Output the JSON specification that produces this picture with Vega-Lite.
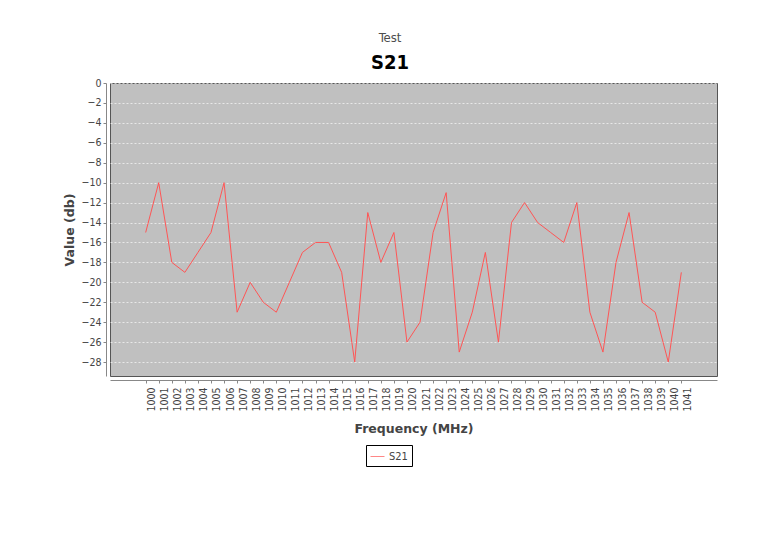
{
  "$schema": "https://vega.github.io/schema/vega-lite/v6.json",
  "autosize": {"type": "none"},
  "width": 607,
  "height": 293,
  "padding": {"left": 110, "top": 83, "right": 60, "bottom": 165},
  "background": "white",
  "title": {
    "text": "Test",
    "subtitle": "S21",
    "anchor": "middle",
    "frame": "bounds",
    "font": "DejaVu Sans Condensed, DejaVu Sans",
    "fontSize": 13,
    "fontWeight": "normal",
    "color": "#4d4d4d",
    "subtitleFont": "DejaVu Sans Condensed, DejaVu Sans",
    "subtitleFontSize": 20,
    "subtitleFontWeight": "bold",
    "subtitleColor": "black",
    "subtitlePadding": 8,
    "offset": 5
  },
  "data": {
    "values": [
      {"frequency": 1000, "value": -15, "series": "S21"},
      {"frequency": 1001, "value": -10, "series": "S21"},
      {"frequency": 1002, "value": -18, "series": "S21"},
      {"frequency": 1003, "value": -19, "series": "S21"},
      {"frequency": 1004, "value": -17, "series": "S21"},
      {"frequency": 1005, "value": -15, "series": "S21"},
      {"frequency": 1006, "value": -10, "series": "S21"},
      {"frequency": 1007, "value": -23, "series": "S21"},
      {"frequency": 1008, "value": -20, "series": "S21"},
      {"frequency": 1009, "value": -22, "series": "S21"},
      {"frequency": 1010, "value": -23, "series": "S21"},
      {"frequency": 1011, "value": -20, "series": "S21"},
      {"frequency": 1012, "value": -17, "series": "S21"},
      {"frequency": 1013, "value": -16, "series": "S21"},
      {"frequency": 1014, "value": -16, "series": "S21"},
      {"frequency": 1015, "value": -19, "series": "S21"},
      {"frequency": 1016, "value": -28, "series": "S21"},
      {"frequency": 1017, "value": -13, "series": "S21"},
      {"frequency": 1018, "value": -18, "series": "S21"},
      {"frequency": 1019, "value": -15, "series": "S21"},
      {"frequency": 1020, "value": -26, "series": "S21"},
      {"frequency": 1021, "value": -24, "series": "S21"},
      {"frequency": 1022, "value": -15, "series": "S21"},
      {"frequency": 1023, "value": -11, "series": "S21"},
      {"frequency": 1024, "value": -27, "series": "S21"},
      {"frequency": 1025, "value": -23, "series": "S21"},
      {"frequency": 1026, "value": -17, "series": "S21"},
      {"frequency": 1027, "value": -26, "series": "S21"},
      {"frequency": 1028, "value": -14, "series": "S21"},
      {"frequency": 1029, "value": -12, "series": "S21"},
      {"frequency": 1030, "value": -14, "series": "S21"},
      {"frequency": 1031, "value": -15, "series": "S21"},
      {"frequency": 1032, "value": -16, "series": "S21"},
      {"frequency": 1033, "value": -12, "series": "S21"},
      {"frequency": 1034, "value": -23, "series": "S21"},
      {"frequency": 1035, "value": -27, "series": "S21"},
      {"frequency": 1036, "value": -18, "series": "S21"},
      {"frequency": 1037, "value": -13, "series": "S21"},
      {"frequency": 1038, "value": -22, "series": "S21"},
      {"frequency": 1039, "value": -23, "series": "S21"},
      {"frequency": 1040, "value": -28, "series": "S21"},
      {"frequency": 1041, "value": -19, "series": "S21"}
    ]
  },
  "mark": {"type": "line", "strokeWidth": 1, "interpolate": "linear"},
  "encoding": {
    "x": {
      "field": "frequency",
      "type": "quantitative",
      "title": "Frequency (MHz)",
      "scale": {"domain": [997.27, 1043.73], "nice": false, "zero": false},
      "axis": {
        "values": [1000, 1001, 1002, 1003, 1004, 1005, 1006, 1007, 1008, 1009, 1010, 1011, 1012, 1013, 1014, 1015, 1016, 1017, 1018, 1019, 1020, 1021, 1022, 1023, 1024, 1025, 1026, 1027, 1028, 1029, 1030, 1031, 1032, 1033, 1034, 1035, 1036, 1037, 1038, 1039, 1040, 1041],
        "format": "d",
        "labelAngle": -90,
        "labelOffset": 6,
        "labelPadding": 4,
        "labelOverlap": false,
        "labelFlush": false,
        "offset": 4,
        "tickSize": 3,
        "titlePadding": 11
      }
    },
    "y": {
      "field": "value",
      "type": "quantitative",
      "title": "Value (db)",
      "scale": {"domain": [-29.4, 0], "nice": false, "zero": false},
      "axis": {
        "values": [0, -2, -4, -6, -8, -10, -12, -14, -16, -18, -20, -22, -24, -26, -28],
        "offset": 4,
        "tickSize": 3,
        "labelPadding": 2,
        "titlePadding": 5,
        "grid": true,
        "gridColor": "#ffffff",
        "gridDash": [2, 2],
        "gridOpacity": 0.8,
        "gridWidth": 0.8
      }
    },
    "color": {
      "field": "series",
      "type": "nominal",
      "scale": {"range": ["#ff5555"]},
      "legend": {
        "title": null,
        "orient": "none",
        "legendX": 256,
        "legendY": 362,
        "direction": "horizontal",
        "strokeColor": "black",
        "padding": 4,
        "symbolType": "stroke",
        "symbolStrokeWidth": 1,
        "symbolSize": 196,
        "symbolOpacity": 0.7
      }
    }
  },
  "config": {
    "view": {"fill": "#c0c0c0", "stroke": "#555555", "strokeWidth": 1},
    "axis": {
      "domainColor": "#888888",
      "tickColor": "#888888",
      "labelColor": "#444444",
      "labelFont": "DejaVu Sans Condensed, DejaVu Sans",
      "labelFontSize": 10.5,
      "titleFont": "DejaVu Sans",
      "titleFontSize": 12.5,
      "titleFontWeight": "bold",
      "titleColor": "#444444",
      "grid": false
    },
    "legend": {
      "labelFont": "DejaVu Sans Condensed, DejaVu Sans",
      "labelFontSize": 11,
      "labelColor": "#444444"
    }
  }
}
